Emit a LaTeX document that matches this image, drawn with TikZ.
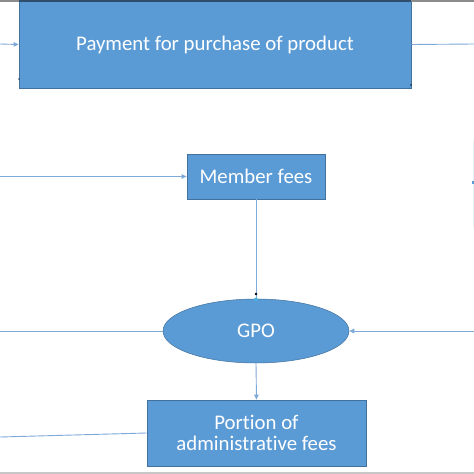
\documentclass[tikz,border=0pt]{standalone}
\usepackage{fontspec}
\setmainfont{Carlito}[Ligatures={NoCommon}]
\usetikzlibrary{shapes.geometric,arrows.meta}
\definecolor{boxfill}{HTML}{5B9BD5}
\definecolor{boxedge}{HTML}{41719C}
\definecolor{linec}{HTML}{7FA9D8}
\definecolor{barc}{HTML}{8C8C8C}
\tikzset{
  lbl/.style={text=white, font=\fontsize{20.8}{21}\selectfont},
  boxnode/.style={rectangle, fill=boxfill, draw=boxedge, line width=0.8pt, lbl, align=center, inner sep=0pt},
  conn/.style={draw=linec, line width=0.9pt},
  arr/.style={conn, -{Triangle[length=5pt,width=4.5pt]}},
}
\begin{document}
\begin{tikzpicture}[x=1pt,y=-1pt]
\useasboundingbox (0,0) rectangle (474,474);
\fill[white] (0,0) rectangle (474,474);
% nodes
\node[boxnode, minimum width=392pt, minimum height=87pt] (pay) at (215,44.5) {Payment for purchase of product};
\node[boxnode, minimum width=138pt, minimum height=45pt] (mem) at (256,176.5) {Member fees};
\node[ellipse, fill=boxfill, draw=boxedge, line width=0.5pt, lbl, minimum width=186pt, minimum height=64pt, inner sep=0pt] (gpo) at (256,331) {GPO};
\node[boxnode, minimum width=219pt, minimum height=66pt] (por) at (256.5,433) {Portion of\\administrative fees};
% free ends
\coordinate (l1) at (0,44);
\coordinate (r1) at (474,44);
\coordinate (l2) at (0,176.5);
\coordinate (l3) at (0,331);
\coordinate (r3) at (474,331);
\coordinate (l4) at (0,437);
% connectors
\draw[arr] (l1) -- (pay.west);
\draw[conn] (pay.east) -- (r1);
\draw[arr] (l2) -- (mem.west);
\draw[conn] (mem.south) -- (gpo.north);
\draw[conn] (gpo.west) -- (l3);
\draw[arr] (r3) -- (gpo.east);
\draw[arr] (gpo.south) -- (por.north);
\draw[conn] (l4) -- (por.west);
% small marks
\fill[black] (256,294) circle (1.3pt);
\fill[boxfill!80!cyan] (256,299.5) circle (2pt);
\fill[boxedge!60!black] (19,79) circle (0.9pt);
\fill[boxedge!60!black] (411,85) circle (1.1pt);
% partial box at right edge
\draw[draw=linec!15, line width=1pt] (473.5,140) -- (473.5,228);
\fill[boxfill] (472,180.5) rectangle (474,184);
% edge bars
\fill[barc] (0,0) rectangle (474,1.8);
\fill[boxedge!70!black] (19,0) rectangle (411,1.8);
\fill[black!22] (0,472) rectangle (474,474);
\end{tikzpicture}
\end{document}
